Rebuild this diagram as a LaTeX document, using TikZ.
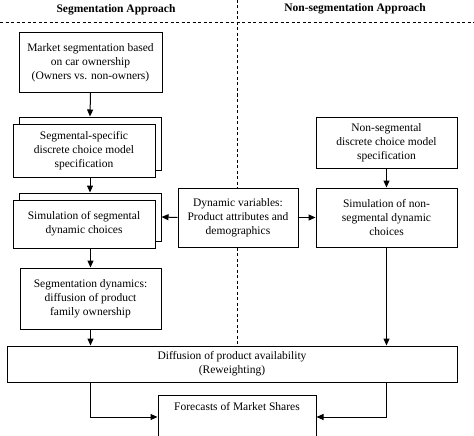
\documentclass[tikz,border=0pt]{standalone}
\usepackage{fontspec}
\setmainfont{Liberation Serif}
\usetikzlibrary{arrows.meta,positioning}
\tikzset{
  box/.style={draw,line width=1pt,fill=white,align=center,inner sep=2pt,
    font=\fontsize{11.5}{14}\selectfont},
  arr/.style={line width=1pt,-{Triangle[length=7pt,width=6pt]}},
  sep/.style={line width=.8pt,dash pattern=on 3pt off 2.5pt},
  head/.style={font=\fontsize{11.5}{14}\selectfont\bfseries}
}
\begin{document}
\begin{tikzpicture}[x=1pt,y=-1pt]
  \clip (0,0) rectangle (474,436);
  \useasboundingbox (0,0) rectangle (474,436);
  \node[head] (seghead) at (116,10) {Segmentation Approach};
  \node[head] (nshead) at (355,9) {Non-segmentation Approach};
  \draw[sep] (0,22) -- (474,22) (237,0) -- (237,346);

  \node[box,minimum width=143,minimum height=59] (market) at (90.5,62.5)
    {Market segmentation based\\on car ownership\\(Owners vs. non-owners)};
  \node[box,minimum width=142,minimum height=53] (segspecB) at (90,143.5) {};
  \node[box,minimum width=142,minimum height=53] (segspec) at (84,150.5)
    {Segmental-specific\\discrete choice model\\specification};
  \node[box,minimum width=142,minimum height=48] (segsimB) at (90,217) {};
  \node[box,minimum width=142,minimum height=48] (segsim) at (84,224)
    {Simulation of segmental\\dynamic choices};
  \node[box,minimum width=141,minimum height=61] (segdyn) at (90.5,298.5)
    {Segmentation dynamics:\\diffusion of product\\family ownership};
  \node[box,minimum width=120,minimum height=59] (dynvar) at (238,217.5)
    {Dynamic variables:\\Product attributes and\\demographics};
  \node[box,minimum width=141,minimum height=51] (nsspec) at (386.5,142.5)
    {Non-segmental\\discrete choice model\\specification};
  \node[box,minimum width=141,minimum height=59] (nssim) at (386.5,217.5)
    {Simulation of non-\\segmental dynamic\\choices};
  \node[box,minimum width=450,minimum height=36] (diff) at (232,364)
    {Diffusion of product availability\\(Reweighting)};
  \node[box,minimum width=158,minimum height=44] (fc) at (237,417) {};
  \node[font=\fontsize{11.5}{14}\selectfont,anchor=north] (fctext) at (237,399)
    {Forecasts of Market Shares};

  \draw[arr] (market.south) -- (segspecB.north);
  \draw[arr] (segspec.south -| segsimB.north) -- (segsimB.north);
  \draw[arr] (segsim.south -| segdyn.north) -- (segdyn.north);
  \draw[arr] (segdyn.south) -- (segdyn.south |- diff.north);
  \draw[arr] (dynvar.west) -- (segsimB.east);
  \draw[arr] (dynvar.east) -- (nssim.west);
  \draw[arr] (nsspec.south) -- (nssim.north);
  \draw[arr] (nssim.south) -- (nssim.south |- diff.north);
  \draw[arr] (diff.south -| segdyn.south) |- (fc.west);
  \draw[arr] (diff.south -| nssim.south) |- (fc.east);
\end{tikzpicture}
\end{document}
